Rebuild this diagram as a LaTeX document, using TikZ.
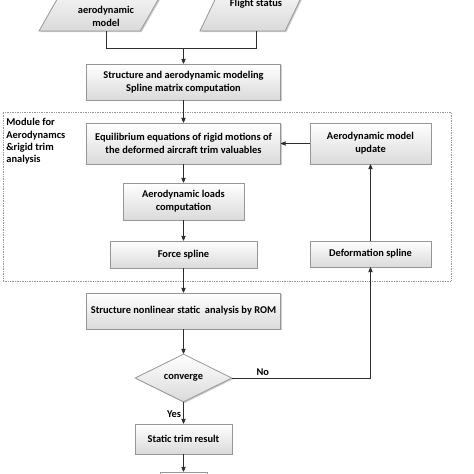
\documentclass[tikz,border=0pt]{standalone}
\usepackage{fontspec}
\setmainfont{Carlito}
\usepackage{tikz}
\usetikzlibrary{arrows,calc,positioning,shapes,shadows}
\definecolor{my_line}{RGB}{45, 45, 45}
\definecolor{my_frame}{RGB}{150, 150, 150}
\definecolor{my_fill}{RGB}{218, 218, 218}
\tikzset{
  flownode/.style = {align=center, inner sep=1pt, draw=my_frame, top color=white, bottom color=my_fill,
  text=black, font=\bfseries\fontsize{10.4}{13}\selectfont,
  drop shadow={shadow xshift=1.2pt, shadow yshift=-1.2pt, opacity=0.4}},
  proc_box/.style = {flownode, rectangle},
  data_in/.style = {flownode, trapezium, trapezium left angle=67, trapezium right angle=113,
  trapezium stretches=true},
  decision/.style = {flownode, diamond, aspect=2},
  flow_txt/.style = {align=center, inner sep=1pt, font=\bfseries\fontsize{10.4}{13}\selectfont}
}

\begin{document}
\begin{tikzpicture}[x=1pt, y=-1pt, ->, >=stealth', line width=0.8pt, draw=my_line,
        	module_frame/.style={draw=my_frame, densely dotted, line width=0.7pt, rectangle},
        	module_txt/.style={flow_txt, align=left, font=\bfseries\fontsize{10.4}{12.4}\selectfont}]
    \useasboundingbox (0,0) rectangle (474,474);
    \clip (0,0) rectangle (474,474);
    % inputs
    \node [data_in, minimum width=131.5pt, minimum height=53pt] (aero) at (104.75,4.5) {};
    \node [flow_txt] (aerotxt) at (106,16) {aerodynamic\\model};
    \node [data_in, minimum width=110.5pt, minimum height=53pt] (flight) at (255.25,4.5) {};
    \node [flow_txt] (flighttxt) at (256,4) {Flight status};
    \coordinate (merge) at (183.5,48);
    % module for trim analysis
    \node [module_frame, minimum width=448pt, minimum height=169pt] (module) at (227,196.5) {};
    \node [module_txt, anchor=north west] (modtxt) at (5,117) {Module for\\Aerodynamcs\\\&rigid trim\\analysis};
    % process boxes
    \node [proc_box, minimum width=194pt, minimum height=36pt] (model) at (183.5,82) {Structure and aerodynamic modeling\\Spline matrix computation};
    \node [proc_box, minimum width=194pt, minimum height=41pt] (equil) at (183.5,143.5) {Equilibrium equations of rigid motions of\\the deformed aircraft trim valuables};
    \node [proc_box, minimum width=121pt, minimum height=41pt] (update) at (370.5,143.5) {Aerodynamic model\\update};
    \node [proc_box, minimum width=121pt, minimum height=37pt] (loads) at (183.5,201.5) {Aerodynamic loads\\computation};
    \node [proc_box, minimum width=147pt, minimum height=27pt] (force) at (183.5,254.5) {Force spline};
    \node [proc_box, minimum width=121pt, minimum height=26pt] (deform) at (370.5,254) {Deformation spline};
    \node [proc_box, minimum width=194pt, minimum height=36pt] (rom) at (183.5,311) {Structure nonlinear static\ \ analysis by ROM};
    \node [decision, minimum width=97pt, minimum height=48pt] (conv) at (183.5,378) {converge};
    \node [proc_box, minimum width=97pt, minimum height=30pt] (result) at (183.5,439) {Static trim result};
    \node [proc_box, minimum width=47pt, minimum height=30pt] (final) at (183.5,487) {};
    % connectors
    \draw [-] (aerotxt |- aero.south) |- (merge);
    \draw [-] (flighttxt |- flight.south) |- (merge);
    \draw (merge) -- (model);
    \draw (model) -- (equil);
    \draw (update) -- (equil);
    \draw (equil) -- (loads);
    \draw (loads) -- (force);
    \draw (force) -- (rom);
    \draw (deform) -- (update);
    \draw (rom) -- (conv);
    \draw (conv.east) -| node [flow_txt, pos=0.11, above=1pt] (no) {No} (deform.south);
    \draw (conv.south) -- node [flow_txt, left=1pt, pos=0.55] (yes) {Yes} (result.north);
    \draw (result) -- (final);
\end{tikzpicture}
\end{document}
